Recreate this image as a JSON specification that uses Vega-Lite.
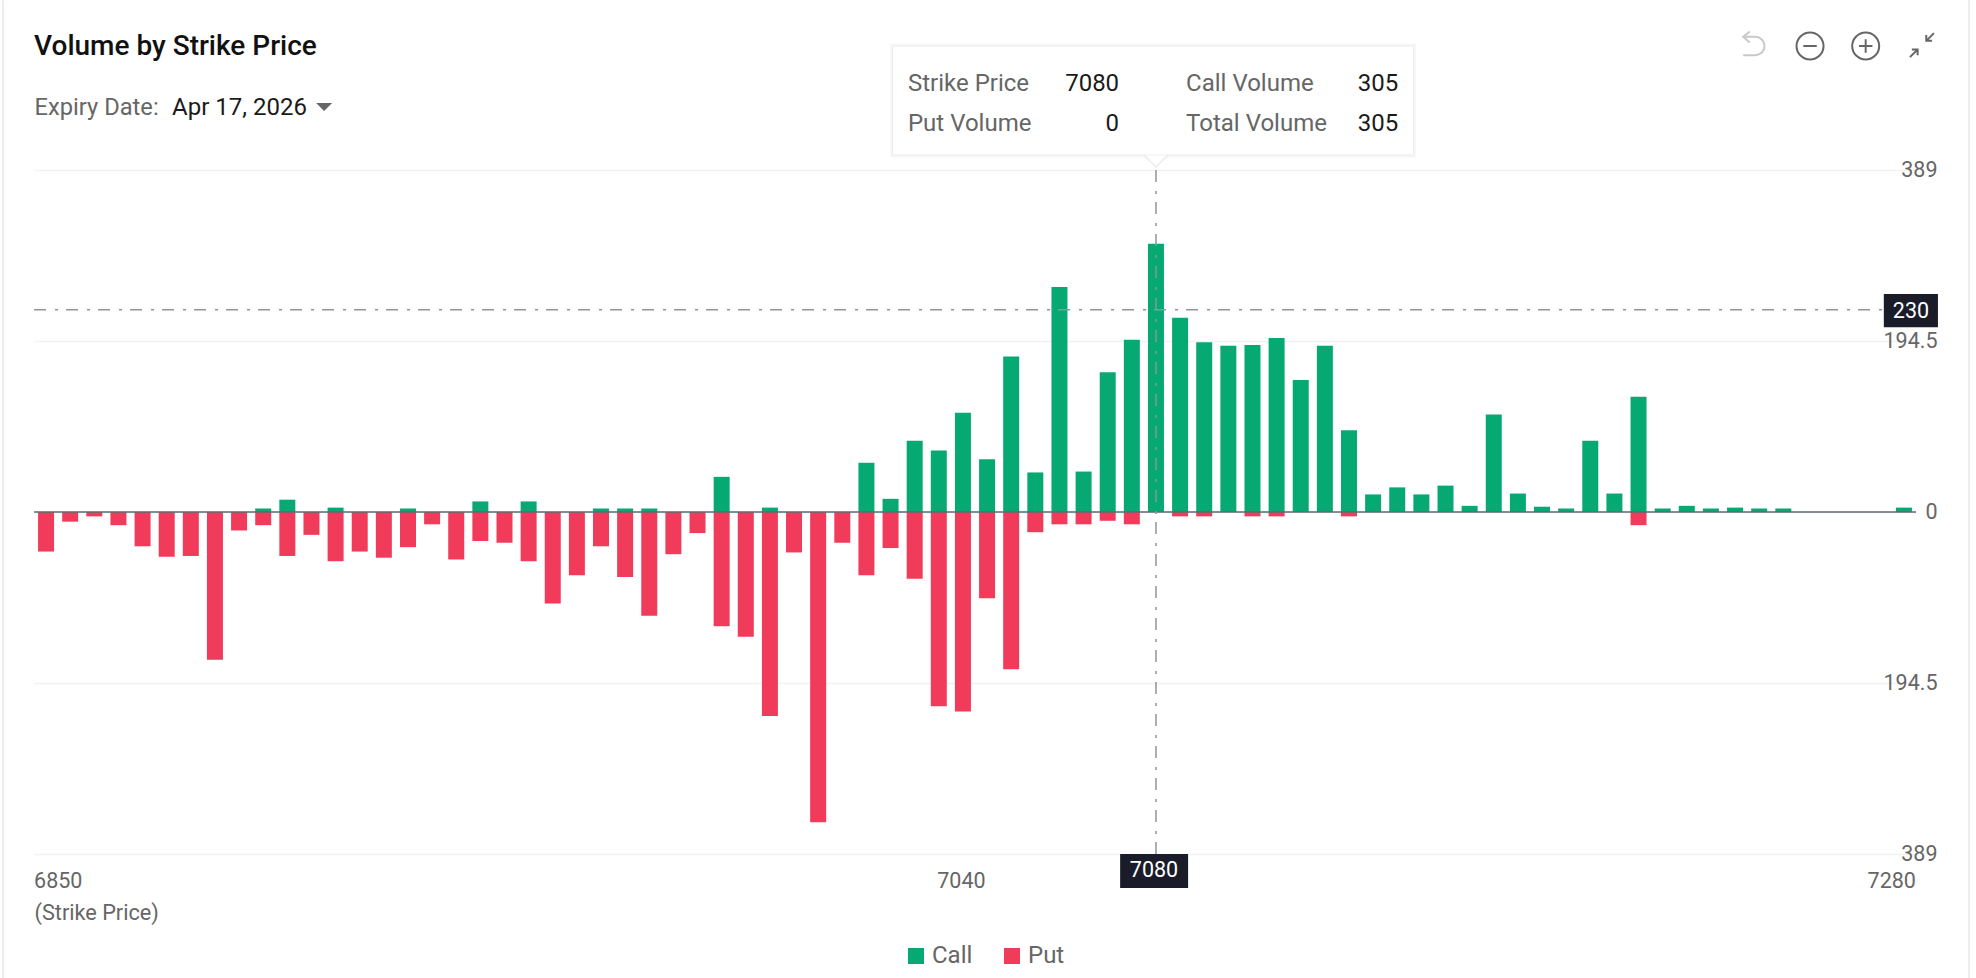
{
  "$schema": "https://vega.github.io/schema/vega-lite/v6.json",
  "width": 1882,
  "height": 684,
  "autosize": "none",
  "padding": {"left": 34, "top": 170, "right": 60, "bottom": 124},
  "background": "#ffffff",
  "config": {"view": {"stroke": null}},
  "data": {
    "values": [
      {"strike": 6850, "type": "Put", "volume": -45},
      {"strike": 6855, "type": "Put", "volume": -11},
      {"strike": 6860, "type": "Put", "volume": -5},
      {"strike": 6865, "type": "Put", "volume": -15},
      {"strike": 6870, "type": "Put", "volume": -39},
      {"strike": 6875, "type": "Put", "volume": -51},
      {"strike": 6880, "type": "Put", "volume": -50},
      {"strike": 6885, "type": "Put", "volume": -168},
      {"strike": 6890, "type": "Put", "volume": -21},
      {"strike": 6895, "type": "Put", "volume": -15},
      {"strike": 6895, "type": "Call", "volume": 4},
      {"strike": 6900, "type": "Put", "volume": -50},
      {"strike": 6900, "type": "Call", "volume": 14},
      {"strike": 6905, "type": "Put", "volume": -26},
      {"strike": 6910, "type": "Put", "volume": -56},
      {"strike": 6910, "type": "Call", "volume": 5},
      {"strike": 6915, "type": "Put", "volume": -45},
      {"strike": 6920, "type": "Put", "volume": -52},
      {"strike": 6925, "type": "Put", "volume": -40},
      {"strike": 6925, "type": "Call", "volume": 4},
      {"strike": 6930, "type": "Put", "volume": -14},
      {"strike": 6935, "type": "Put", "volume": -54},
      {"strike": 6940, "type": "Put", "volume": -33},
      {"strike": 6940, "type": "Call", "volume": 12},
      {"strike": 6945, "type": "Put", "volume": -35},
      {"strike": 6950, "type": "Put", "volume": -56},
      {"strike": 6950, "type": "Call", "volume": 12},
      {"strike": 6955, "type": "Put", "volume": -104},
      {"strike": 6960, "type": "Put", "volume": -72},
      {"strike": 6965, "type": "Put", "volume": -39},
      {"strike": 6965, "type": "Call", "volume": 4},
      {"strike": 6970, "type": "Put", "volume": -74},
      {"strike": 6970, "type": "Call", "volume": 4},
      {"strike": 6975, "type": "Put", "volume": -118},
      {"strike": 6975, "type": "Call", "volume": 4},
      {"strike": 6980, "type": "Put", "volume": -48},
      {"strike": 6985, "type": "Put", "volume": -24},
      {"strike": 6990, "type": "Put", "volume": -130},
      {"strike": 6990, "type": "Call", "volume": 40},
      {"strike": 6995, "type": "Put", "volume": -142},
      {"strike": 7000, "type": "Put", "volume": -232},
      {"strike": 7000, "type": "Call", "volume": 5},
      {"strike": 7005, "type": "Put", "volume": -46},
      {"strike": 7010, "type": "Put", "volume": -353},
      {"strike": 7015, "type": "Put", "volume": -35},
      {"strike": 7020, "type": "Put", "volume": -72},
      {"strike": 7020, "type": "Call", "volume": 56},
      {"strike": 7025, "type": "Put", "volume": -41},
      {"strike": 7025, "type": "Call", "volume": 15},
      {"strike": 7030, "type": "Put", "volume": -76},
      {"strike": 7030, "type": "Call", "volume": 81},
      {"strike": 7035, "type": "Put", "volume": -221},
      {"strike": 7035, "type": "Call", "volume": 70},
      {"strike": 7040, "type": "Put", "volume": -227},
      {"strike": 7040, "type": "Call", "volume": 113},
      {"strike": 7045, "type": "Put", "volume": -98},
      {"strike": 7045, "type": "Call", "volume": 60},
      {"strike": 7050, "type": "Put", "volume": -179},
      {"strike": 7050, "type": "Call", "volume": 177},
      {"strike": 7055, "type": "Put", "volume": -23},
      {"strike": 7055, "type": "Call", "volume": 45},
      {"strike": 7060, "type": "Put", "volume": -14},
      {"strike": 7060, "type": "Call", "volume": 256},
      {"strike": 7065, "type": "Put", "volume": -14},
      {"strike": 7065, "type": "Call", "volume": 46},
      {"strike": 7070, "type": "Put", "volume": -10},
      {"strike": 7070, "type": "Call", "volume": 159},
      {"strike": 7075, "type": "Put", "volume": -14},
      {"strike": 7075, "type": "Call", "volume": 196},
      {"strike": 7080, "type": "Call", "volume": 305},
      {"strike": 7085, "type": "Put", "volume": -5},
      {"strike": 7085, "type": "Call", "volume": 221},
      {"strike": 7090, "type": "Put", "volume": -5},
      {"strike": 7090, "type": "Call", "volume": 193},
      {"strike": 7095, "type": "Call", "volume": 189},
      {"strike": 7100, "type": "Put", "volume": -5},
      {"strike": 7100, "type": "Call", "volume": 190},
      {"strike": 7105, "type": "Put", "volume": -5},
      {"strike": 7105, "type": "Call", "volume": 198},
      {"strike": 7110, "type": "Call", "volume": 150},
      {"strike": 7115, "type": "Call", "volume": 189},
      {"strike": 7120, "type": "Put", "volume": -5},
      {"strike": 7120, "type": "Call", "volume": 93},
      {"strike": 7125, "type": "Call", "volume": 20},
      {"strike": 7130, "type": "Call", "volume": 28},
      {"strike": 7135, "type": "Call", "volume": 20},
      {"strike": 7140, "type": "Call", "volume": 30},
      {"strike": 7145, "type": "Call", "volume": 7},
      {"strike": 7150, "type": "Call", "volume": 111},
      {"strike": 7155, "type": "Call", "volume": 21},
      {"strike": 7160, "type": "Call", "volume": 6},
      {"strike": 7165, "type": "Call", "volume": 4},
      {"strike": 7170, "type": "Call", "volume": 81},
      {"strike": 7175, "type": "Call", "volume": 21},
      {"strike": 7180, "type": "Put", "volume": -15},
      {"strike": 7180, "type": "Call", "volume": 131},
      {"strike": 7185, "type": "Call", "volume": 4},
      {"strike": 7190, "type": "Call", "volume": 7},
      {"strike": 7200, "type": "Call", "volume": 4},
      {"strike": 7210, "type": "Call", "volume": 5},
      {"strike": 7220, "type": "Call", "volume": 4},
      {"strike": 7230, "type": "Call", "volume": 4},
      {"strike": 7240, "type": "Call", "volume": 0},
      {"strike": 7250, "type": "Call", "volume": 0},
      {"strike": 7260, "type": "Call", "volume": 0},
      {"strike": 7270, "type": "Call", "volume": 0},
      {"strike": 7280, "type": "Call", "volume": 5}
    ]
  },
  "encoding": {
    "x": {
      "field": "strike",
      "type": "ordinal",
      "scale": {"type": "band", "paddingInner": 0.337, "paddingOuter": 0.168},
      "axis": {
        "values": [6850, 7040, 7280],
        "title": "(Strike Price)",
        "titleFont": "Roboto",
        "titleFontSize": 21.7,
        "titleFontWeight": 400,
        "titleColor": "#666666",
        "titleAnchor": "start",
        "titleAlign": "left",
        "titleBaseline": "alphabetic",
        "titleX": 0,
        "titleY": 65,
        "labelAngle": 0,
        "labelFont": "Roboto",
        "labelFontSize": 21.5,
        "labelColor": "#666666",
        "labelPadding": 16,
        "labelAlign": {"condition": [{"test": "datum.value == 6850", "value": "left"}, {"test": "datum.value == 7280", "value": "right"}], "value": "center"},
        "labelOffset": {"condition": [{"test": "datum.value == 6850", "value": -12}, {"test": "datum.value == 7040", "value": -1.5}, {"test": "datum.value == 7280", "value": 12}], "value": 0},
        "domain": false,
        "ticks": false,
        "grid": false
      }
    },
    "y": {
      "field": "volume",
      "type": "quantitative",
      "stack": null,
      "scale": {"domain": [-389, 389], "nice": false},
      "axis": {
        "orient": "right",
        "values": [-389, -194.5, 0, 194.5, 389],
        "labelExpr": "abs(datum.value)",
        "title": null,
        "domain": false,
        "ticks": false,
        "grid": true,
        "gridColor": "#f2f2f2",
        "gridWidth": 1.5,
        "labelFont": "Roboto",
        "labelFontSize": 21.5,
        "labelColor": "#666666",
        "labelAlign": "right",
        "labelPadding": 21
      }
    }
  },
  "layer": [
    {
      "mark": {"type": "bar"},
      "encoding": {
        "color": {
          "field": "type",
          "type": "nominal",
          "scale": {"domain": ["Call", "Put"], "range": ["#06a971", "#f13b5a"]},
          "legend": {
            "title": null,
            "orient": "none",
            "legendX": 870,
            "legendY": 774,
            "direction": "horizontal",
            "symbolType": "square",
            "symbolSize": 256,
            "symbolStrokeWidth": 0,
            "labelFont": "Roboto",
            "labelFontSize": 24,
            "labelColor": "#666666",
            "labelOffset": 4,
            "columnPadding": 27
          }
        }
      }
    },
    {
      "data": {"values": [{"strike": 6850, "strike2": 7280, "volume": 0}]},
      "mark": {"type": "rule", "color": "#5f6874", "strokeWidth": 1.5, "xOffset": -12, "x2Offset": 12},
      "encoding": {"x2": {"field": "strike2"}}
    },
    {
      "data": {"values": [{"strike": 6850, "strike2": 7280, "volume": 230}]},
      "mark": {"type": "rule", "color": "#8d94a0", "strokeWidth": 1.5, "strokeDash": [12, 9, 3, 8], "xOffset": -12, "x2Offset": 12},
      "encoding": {"x2": {"field": "strike2"}}
    },
    {
      "data": {"values": [{"strike": 7080, "volume": 389, "volume2": -389}]},
      "mark": {"type": "rule", "color": "#8d94a0", "strokeWidth": 1.5, "strokeDash": [12, 9, 3, 8]},
      "encoding": {"y2": {"field": "volume2"}}
    },
    {
      "data": {"values": [{"strike": 6850, "volume": 582, "volume2": -530}]},
      "mark": {"type": "rule", "color": "#ededed", "strokeWidth": 2, "xOffset": -43},
      "encoding": {"y2": {"field": "volume2"}}
    },
    {
      "data": {"values": [{"strike": 7280, "volume": 582, "volume2": -530}]},
      "mark": {"type": "rule", "color": "#ededed", "strokeWidth": 2, "xOffset": 65},
      "encoding": {"y2": {"field": "volume2"}}
    },
    {
      "data": {"values": [{"strike": 7025, "strike2": 7135, "volume": 530, "volume2": 406}]},
      "mark": {"type": "rect", "fill": "#ffffff", "stroke": "#000000", "strokeOpacity": 0.03, "strokeWidth": 5, "xOffset": 2, "x2Offset": -7.7},
      "encoding": {"x2": {"field": "strike2"}, "y2": {"field": "volume2"}}
    },
    {
      "data": {"values": [{"strike": 7025, "strike2": 7135, "volume": 530, "volume2": 406}]},
      "mark": {"type": "rect", "fill": "#ffffff", "stroke": "#ebebeb", "strokeWidth": 1, "xOffset": 2, "x2Offset": -7.7},
      "encoding": {"x2": {"field": "strike2"}, "y2": {"field": "volume2"}}
    },
    {
      "data": {"values": [{"strike": 7080, "volume": 399}]},
      "mark": {"type": "point", "shape": "M-1,-0.5L0,0.5L1,-0.5", "size": 529, "fill": "#ffffff", "fillOpacity": 1, "stroke": "#ebebeb", "strokeWidth": 1.5, "opacity": 1}
    },
    {
      "data": {"values": [{"strike": 6850, "volume": 519.8, "label": "Volume by Strike Price"}]},
      "mark": {"type": "text", "font": "Roboto", "fontSize": 28, "fontWeight": 500, "color": "#111111", "align": "left", "baseline": "alphabetic", "dx": -12},
      "encoding": {"text": {"field": "label"}}
    },
    {
      "data": {"values": [{"strike": 7030, "volume": 478.8, "label": "Strike Price"}, {"strike": 7030, "volume": 433.3, "label": "Put Volume"}]},
      "mark": {"type": "text", "font": "Roboto", "fontSize": 24, "color": "#666666", "align": "left", "baseline": "alphabetic", "dx": -6.7},
      "encoding": {"text": {"field": "label"}}
    },
    {
      "data": {"values": [{"strike": 7070, "volume": 478.8, "label": "7080"}, {"strike": 7070, "volume": 433.3, "label": "0"}]},
      "mark": {"type": "text", "font": "Roboto", "fontSize": 24, "color": "#1a1a1a", "align": "right", "baseline": "alphabetic", "dx": 11.4},
      "encoding": {"text": {"field": "label"}}
    },
    {
      "data": {"values": [{"strike": 7085, "volume": 478.8, "label": "Call Volume"}, {"strike": 7085, "volume": 433.3, "label": "Total Volume"}]},
      "mark": {"type": "text", "font": "Roboto", "fontSize": 24, "color": "#666666", "align": "left", "baseline": "alphabetic", "dx": 6},
      "encoding": {"text": {"field": "label"}}
    },
    {
      "data": {"values": [{"strike": 7130, "volume": 478.8, "label": "305"}, {"strike": 7130, "volume": 433.3, "label": "305"}]},
      "mark": {"type": "text", "font": "Roboto", "fontSize": 24, "color": "#1a1a1a", "align": "right", "baseline": "alphabetic", "dx": 1},
      "encoding": {"text": {"field": "label"}}
    },
    {
      "data": {"values": [{"strike": 6850, "volume": 451.5, "label": "Expiry Date:"}]},
      "mark": {"type": "text", "font": "Roboto", "fontSize": 23.7, "color": "#666666", "align": "left", "baseline": "alphabetic", "dx": -11.5},
      "encoding": {"text": {"field": "label"}}
    },
    {
      "data": {"values": [{"strike": 6875, "volume": 451.5, "label": "Apr 17, 2026"}]},
      "mark": {"type": "text", "font": "Roboto", "fontSize": 24, "color": "#1a1a1a", "align": "left", "baseline": "alphabetic", "dx": 5.4},
      "encoding": {"text": {"field": "label"}}
    },
    {
      "data": {"values": [{"strike": 6910, "volume": 460.6}]},
      "mark": {"type": "point", "shape": "M-1,-0.5L1,-0.5L0,0.5Z", "size": 256, "filled": true, "color": "#666666", "opacity": 1, "xOffset": -11.5}
    },
    {
      "data": {"values": [{"strike": 7220, "volume": 531}]},
      "mark": {"type": "point", "shape": "M-0.4,-1.24L-1,-0.76L-0.4,-0.24M-1,-0.76L0.1,-0.76A0.84,0.84 0 0 1 0.1,0.92L-1,0.92", "size": 484, "filled": false, "color": "#c9c9c9", "strokeWidth": 2, "opacity": 1, "xOffset": -5}
    },
    {
      "data": {"values": [{"strike": 7240, "volume": 530}]},
      "mark": {"type": "point", "shape": "M-1,0A1,1 0 1 1 1,0A1,1 0 1 1 -1,0M-0.5,0L0.5,0", "size": 729, "filled": false, "color": "#666666", "strokeWidth": 2, "opacity": 1, "xOffset": 2.6}
    },
    {
      "data": {"values": [{"strike": 7260, "volume": 530}]},
      "mark": {"type": "point", "shape": "M-1,0A1,1 0 1 1 1,0A1,1 0 1 1 -1,0M-0.5,0L0.5,0M0,-0.5L0,0.5", "size": 729, "filled": false, "color": "#666666", "strokeWidth": 2, "opacity": 1, "xOffset": 10}
    },
    {
      "data": {"values": [{"strike": 7280, "volume": 531}]},
      "mark": {"type": "point", "shape": "M1,-1L0.36,-0.36M0.36,-0.84L0.36,-0.36L0.84,-0.36M-1,1L-0.36,0.36M-0.84,0.36L-0.36,0.36L-0.36,0.84", "size": 576, "filled": false, "color": "#666666", "strokeWidth": 2, "opacity": 1, "xOffset": 18}
    },
    {
      "data": {"values": [{"strike": 7270, "strike2": 7280, "volume": 248, "volume2": 210}]},
      "mark": {"type": "rect", "fill": "#1a1d29", "xOffset": 4, "x2Offset": 34},
      "encoding": {"x2": {"field": "strike2"}, "y2": {"field": "volume2"}}
    },
    {
      "data": {"values": [{"strike": 7280, "volume": 230, "label": "230"}]},
      "mark": {"type": "text", "font": "Roboto", "fontSize": 21.5, "color": "#ffffff", "align": "center", "baseline": "middle", "dx": 7, "dy": 2},
      "encoding": {"text": {"field": "label"}}
    },
    {
      "data": {"values": [{"strike": 7075, "strike2": 7085, "volume": -389, "volume2": -427.6}]},
      "mark": {"type": "rect", "fill": "#1a1d29", "xOffset": -11.7, "x2Offset": 8},
      "encoding": {"x2": {"field": "strike2"}, "y2": {"field": "volume2"}}
    },
    {
      "data": {"values": [{"strike": 7080, "volume": -408, "label": "7080"}]},
      "mark": {"type": "text", "font": "Roboto", "fontSize": 21.5, "color": "#ffffff", "align": "center", "baseline": "middle", "dx": -2},
      "encoding": {"text": {"field": "label"}}
    }
  ]
}
